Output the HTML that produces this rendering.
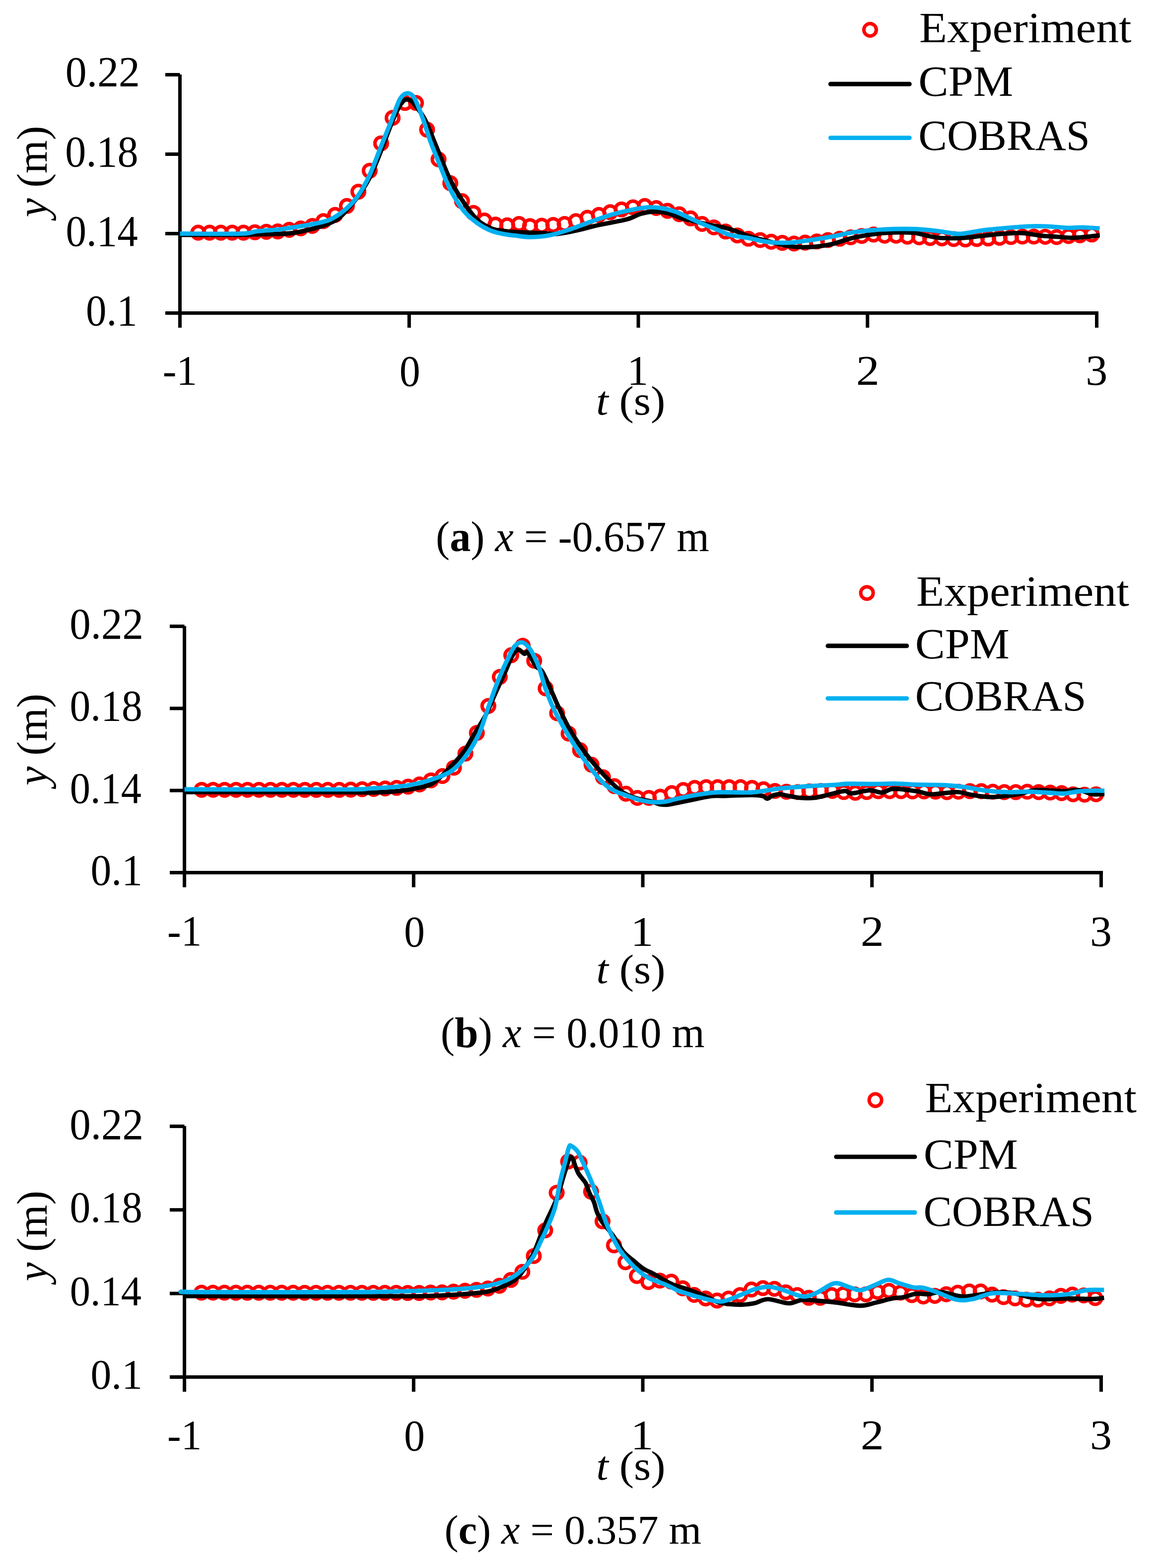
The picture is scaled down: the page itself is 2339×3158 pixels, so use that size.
<!DOCTYPE html><html><head><meta charset="utf-8"><title>Figure</title><style>html,body{margin:0;padding:0;background:#fff;}svg{display:block;}text{font-family:"Liberation Serif","Times New Roman",serif;fill:#000;}</style></head><body>
<svg width="2339" height="3158" viewBox="0 0 2339 3158">
<rect width="2339" height="3158" fill="#fff"/>
<g fill="#000">
<rect x="359.0" y="150.0" width="7" height="484.0"/>
<rect x="333.0" y="627.0" width="1880.0" height="7"/>
<rect x="333.0" y="147.0" width="29.5" height="7"/>
<rect x="333.0" y="307.0" width="29.5" height="7"/>
<rect x="333.0" y="467.0" width="29.5" height="7"/>
<rect x="333.0" y="627.0" width="29.5" height="7"/>
<rect x="359.0" y="630.5" width="7" height="29.5"/>
<rect x="820.8" y="630.5" width="7" height="29.5"/>
<rect x="1282.5" y="630.5" width="7" height="29.5"/>
<rect x="1744.2" y="630.5" width="7" height="29.5"/>
<rect x="2206.0" y="630.5" width="7" height="29.5"/>
</g>
<g fill="none" stroke="#FF0000" stroke-width="7">
<circle cx="399.3" cy="468.6" r="12.55"/>
<circle cx="422.2" cy="468.6" r="12.55"/>
<circle cx="445.0" cy="468.6" r="12.55"/>
<circle cx="467.8" cy="468.6" r="12.55"/>
<circle cx="490.6" cy="468.6" r="12.55"/>
<circle cx="513.4" cy="467.8" r="12.55"/>
<circle cx="536.6" cy="466.9" r="12.55"/>
<circle cx="559.6" cy="466.1" r="12.55"/>
<circle cx="582.7" cy="462.9" r="12.55"/>
<circle cx="605.8" cy="460.0" r="12.55"/>
<circle cx="629.2" cy="455.0" r="12.55"/>
<circle cx="651.5" cy="445.4" r="12.55"/>
<circle cx="675.2" cy="432.9" r="12.55"/>
<circle cx="698.9" cy="414.8" r="12.55"/>
<circle cx="722.0" cy="386.1" r="12.55"/>
<circle cx="744.8" cy="343.8" r="12.55"/>
<circle cx="767.9" cy="288.7" r="12.55"/>
<circle cx="791.0" cy="237.4" r="12.55"/>
<circle cx="815.8" cy="207.3" r="12.55"/>
<circle cx="838.1" cy="207.3" r="12.55"/>
<circle cx="860.4" cy="261.1" r="12.55"/>
<circle cx="883.5" cy="321.0" r="12.55"/>
<circle cx="907.2" cy="368.9" r="12.55"/>
<circle cx="930.8" cy="405.1" r="12.55"/>
<circle cx="953.7" cy="428.7" r="12.55"/>
<circle cx="975.9" cy="444.0" r="12.55"/>
<circle cx="998.2" cy="452.4" r="12.55"/>
<circle cx="1021.9" cy="453.8" r="12.55"/>
<circle cx="1045.6" cy="451.0" r="12.55"/>
<circle cx="1067.8" cy="455.2" r="12.55"/>
<circle cx="1091.5" cy="454.6" r="12.55"/>
<circle cx="1114.6" cy="453.0" r="12.55"/>
<circle cx="1137.5" cy="451.0" r="12.55"/>
<circle cx="1160.3" cy="445.4" r="12.55"/>
<circle cx="1183.4" cy="438.5" r="12.55"/>
<circle cx="1206.5" cy="432.9" r="12.55"/>
<circle cx="1229.4" cy="427.3" r="12.55"/>
<circle cx="1252.2" cy="421.8" r="12.55"/>
<circle cx="1275.3" cy="417.6" r="12.55"/>
<circle cx="1299.0" cy="414.8" r="12.55"/>
<circle cx="1322.1" cy="419.0" r="12.55"/>
<circle cx="1344.9" cy="424.6" r="12.55"/>
<circle cx="1368.6" cy="431.5" r="12.55"/>
<circle cx="1391.4" cy="439.9" r="12.55"/>
<circle cx="1414.5" cy="451.0" r="12.55"/>
<circle cx="1438.2" cy="458.0" r="12.55"/>
<circle cx="1461.9" cy="466.3" r="12.55"/>
<circle cx="1485.6" cy="474.2" r="12.55"/>
<circle cx="1507.8" cy="480.8" r="12.55"/>
<circle cx="1531.5" cy="483.5" r="12.55"/>
<circle cx="1553.8" cy="486.9" r="12.55"/>
<circle cx="1576.1" cy="489.1" r="12.55"/>
<circle cx="1599.7" cy="490.5" r="12.55"/>
<circle cx="1622.0" cy="488.6" r="12.55"/>
<circle cx="1645.7" cy="486.3" r="12.55"/>
<circle cx="1668.0" cy="483.5" r="12.55"/>
<circle cx="1691.6" cy="480.8" r="12.55"/>
<circle cx="1713.9" cy="478.0" r="12.55"/>
<circle cx="1736.2" cy="475.2" r="12.55"/>
<circle cx="1759.9" cy="472.4" r="12.55"/>
<circle cx="1782.1" cy="474.6" r="12.55"/>
<circle cx="1805.3" cy="474.6" r="12.55"/>
<circle cx="1828.1" cy="476.6" r="12.55"/>
<circle cx="1851.8" cy="478.0" r="12.55"/>
<circle cx="1874.0" cy="479.4" r="12.55"/>
<circle cx="1897.7" cy="480.2" r="12.55"/>
<circle cx="1921.4" cy="481.5" r="12.55"/>
<circle cx="1945.0" cy="482.3" r="12.55"/>
<circle cx="1967.9" cy="481.5" r="12.55"/>
<circle cx="1990.9" cy="480.3" r="12.55"/>
<circle cx="2013.9" cy="478.9" r="12.55"/>
<circle cx="2036.8" cy="477.5" r="12.55"/>
<circle cx="2059.8" cy="476.5" r="12.55"/>
<circle cx="2082.8" cy="476.5" r="12.55"/>
<circle cx="2105.8" cy="476.9" r="12.55"/>
<circle cx="2128.7" cy="477.5" r="12.55"/>
<circle cx="2152.7" cy="475.5" r="12.55"/>
<circle cx="2175.7" cy="473.9" r="12.55"/>
<circle cx="2199.6" cy="472.3" r="12.55"/>
</g>
<path d="M362.5,473.0 C383.1,473.0 460.1,473.2 485.9,473.0 C511.7,472.8 504.3,472.3 517.4,472.0 C530.5,471.7 550.8,471.7 564.6,471.0 C578.4,470.3 583.4,471.3 600.0,467.7 C616.6,464.1 647.8,456.8 664.0,449.6 C680.2,442.4 684.0,439.8 697.5,424.5 C711.0,409.2 729.0,388.3 744.8,357.7 C760.5,327.1 780.9,266.3 792.0,240.8 C803.1,215.3 806.0,211.1 811.6,204.6 C817.2,198.1 821.4,200.4 825.6,201.8 C829.8,203.2 831.6,206.4 836.7,212.9 C841.8,219.4 849.2,227.3 856.2,240.8 C863.2,254.3 870.1,273.8 878.5,293.7 C886.9,313.6 897.0,341.5 906.3,360.5 C915.6,379.5 924.9,394.1 934.2,407.8 C943.5,421.6 952.7,434.3 962.0,443.0 C971.3,451.7 980.6,456.2 989.9,460.0 C999.2,463.8 1009.4,464.2 1017.7,465.5 C1026.0,466.8 1031.7,467.0 1040.0,467.5 C1048.3,468.0 1058.6,468.3 1067.8,468.6 C1077.0,468.9 1085.7,469.1 1095.0,469.5 C1104.3,469.9 1111.8,472.0 1123.5,471.0 C1135.2,470.0 1151.4,466.5 1165.3,463.5 C1179.2,460.5 1190.8,456.6 1207.1,453.0 C1223.3,449.4 1248.9,445.5 1262.8,441.8 C1276.7,438.1 1281.3,433.3 1290.6,430.7 C1299.9,428.1 1309.2,426.2 1318.5,426.0 C1327.8,425.8 1337.0,427.3 1346.3,429.6 C1355.6,431.9 1364.9,437.1 1374.2,439.9 C1383.5,442.7 1392.7,444.1 1402.0,446.3 C1411.3,448.5 1420.6,451.1 1429.9,453.0 C1439.2,454.9 1449.4,456.1 1457.7,458.0 C1466.0,459.9 1471.7,461.7 1480.0,464.6 C1488.3,467.5 1496.2,471.6 1507.8,475.2 C1519.4,478.8 1535.7,482.8 1549.6,486.3 C1563.5,489.8 1577.5,494.2 1591.4,496.1 C1605.3,498.0 1619.3,498.2 1633.2,497.5 C1647.1,496.8 1661.0,494.9 1674.9,491.9 C1688.8,488.9 1702.8,482.8 1716.7,479.4 C1730.6,476.0 1744.6,473.7 1758.5,471.8 C1772.4,469.9 1786.3,468.6 1800.2,468.2 C1814.1,467.8 1830.4,467.9 1842.0,469.1 C1853.6,470.3 1860.6,473.5 1869.9,475.2 C1879.2,476.9 1886.0,478.7 1897.7,479.4 C1909.4,480.1 1926.3,479.9 1940.0,479.2 C1953.7,478.4 1966.6,476.3 1979.9,474.9 C1993.2,473.5 2006.6,471.8 2019.9,470.9 C2033.2,470.0 2046.5,468.8 2059.8,469.5 C2073.1,470.2 2088.2,473.7 2099.8,474.9 C2111.5,476.1 2119.7,476.2 2129.7,476.9 C2139.7,477.6 2149.7,478.9 2159.7,478.9 C2169.7,478.9 2180.4,477.7 2189.7,476.9 C2199.0,476.1 2211.3,474.4 2215.6,473.9" fill="none" stroke="#000" stroke-width="8.9" stroke-linejoin="round"/>
<path d="M362.5,470.5 C383.1,470.5 460.1,471.3 485.9,470.5 C511.7,469.7 504.3,467.2 517.4,465.8 C530.5,464.4 551.5,463.2 564.6,461.8 C577.7,460.4 586.8,458.5 596.0,457.1 C605.2,455.7 608.7,455.6 620.0,453.2 C631.3,450.8 651.1,448.1 664.0,442.6 C676.9,437.1 687.8,428.8 697.5,420.4 C707.2,412.0 714.6,403.9 722.5,392.5 C730.4,381.1 737.4,368.1 744.8,352.1 C752.2,336.1 759.6,315.1 767.0,296.5 C774.4,277.9 782.9,257.1 789.4,240.8 C795.9,224.6 800.9,207.8 806.0,199.0 C811.1,190.2 815.4,188.3 820.0,187.8 C824.6,187.3 828.8,188.3 833.9,196.2 C839.0,204.1 845.0,220.3 850.6,235.2 C856.2,250.0 861.7,270.0 867.3,285.3 C872.9,300.6 877.5,311.2 884.0,327.0 C890.5,342.8 897.9,363.8 906.3,380.0 C914.7,396.2 924.9,412.9 934.2,424.5 C943.5,436.1 952.7,442.9 962.0,449.6 C971.3,456.3 980.6,461.2 989.9,464.9 C999.2,468.6 1009.4,470.3 1017.7,471.9 C1026.0,473.5 1031.7,473.8 1040.0,474.7 C1048.3,475.6 1056.2,477.7 1067.8,477.5 C1079.4,477.3 1095.7,476.1 1109.6,473.3 C1123.5,470.5 1137.5,465.5 1151.4,460.8 C1165.3,456.1 1179.3,450.3 1193.2,445.4 C1207.1,440.5 1221.1,435.4 1235.0,431.5 C1248.9,427.6 1265.1,424.1 1276.7,421.8 C1288.3,419.5 1295.2,418.1 1304.5,417.6 C1313.8,417.1 1323.1,417.6 1332.4,419.0 C1341.7,420.4 1350.9,422.8 1360.2,426.0 C1369.5,429.2 1378.8,434.3 1388.1,438.5 C1397.4,442.7 1406.6,447.1 1415.9,451.0 C1425.2,454.9 1434.5,458.4 1443.8,462.1 C1453.1,465.8 1460.9,470.4 1471.6,473.3 C1482.3,476.2 1494.8,477.0 1507.8,479.4 C1520.8,481.8 1535.7,486.2 1549.6,487.7 C1563.5,489.2 1577.5,489.3 1591.4,488.6 C1605.3,487.9 1619.3,485.5 1633.2,483.5 C1647.1,481.5 1661.0,479.2 1674.9,476.6 C1688.8,474.1 1702.8,470.4 1716.7,468.2 C1730.6,466.0 1744.6,464.6 1758.5,463.5 C1772.4,462.4 1786.3,461.7 1800.2,461.3 C1814.1,460.9 1828.1,460.8 1842.0,461.3 C1855.9,461.9 1872.5,463.4 1883.8,464.6 C1895.1,465.8 1901.3,467.4 1910.0,468.5 C1918.7,469.6 1924.3,471.7 1936.0,470.9 C1947.7,470.1 1965.9,465.7 1979.9,463.9 C1993.9,462.1 2004.9,461.2 2019.9,459.9 C2034.9,458.6 2054.8,456.6 2069.8,455.9 C2084.8,455.2 2096.4,455.4 2109.7,455.9 C2123.0,456.4 2138.0,458.6 2149.7,458.9 C2161.4,459.2 2168.7,457.7 2179.7,457.9 C2190.7,458.1 2209.6,459.6 2215.6,459.9" fill="none" stroke="#00B0F0" stroke-width="8.9" stroke-linejoin="round" stroke-linecap="butt"/>
<circle cx="1752.9" cy="60.0" r="12.55" fill="none" stroke="#FF0000" stroke-width="7"/>
<line x1="1673.2" y1="169.3" x2="1832.3" y2="169.3" stroke="#000" stroke-width="8.9" stroke-linecap="round"/>
<line x1="1673.2" y1="277.6" x2="1832.3" y2="277.6" stroke="#00B0F0" stroke-width="8.9" stroke-linecap="round"/>
<text id="A_yl0" x="281.9" y="174.2" font-size="85.7" text-anchor="end" textLength="150.1" lengthAdjust="spacingAndGlyphs">0.22</text>
<text id="A_yl1" x="278.6" y="335.4" font-size="89.3" text-anchor="end" textLength="147.3" lengthAdjust="spacingAndGlyphs">0.18</text>
<text id="A_yl2" x="277.9" y="494.8" font-size="89.9" text-anchor="end" textLength="145.4" lengthAdjust="spacingAndGlyphs">0.14</text>
<text id="A_yl3" x="276.9" y="654.9" font-size="89.3" text-anchor="end" textLength="103.8" lengthAdjust="spacingAndGlyphs">0.1</text>
<text id="A_xl0" x="362.5" y="775.2" font-size="85.2" text-anchor="middle" textLength="69.4" lengthAdjust="spacingAndGlyphs">-1</text>
<text id="A_xl1" x="825.8" y="776.5" font-size="88.6" text-anchor="middle" textLength="41.9" lengthAdjust="spacingAndGlyphs">0</text>
<text id="A_xl2" x="1285.0" y="774.9" font-size="85.0" text-anchor="middle" textLength="42.8" lengthAdjust="spacingAndGlyphs">1</text>
<text id="A_xl3" x="1748.2" y="775.4" font-size="85.4" text-anchor="middle" textLength="47.1" lengthAdjust="spacingAndGlyphs">2</text>
<text id="A_xl4" x="2209.3" y="775.2" font-size="86.9" text-anchor="middle" textLength="44.0" lengthAdjust="spacingAndGlyphs">3</text>
<text id="A_t" x="1270.6" y="835.4" font-size="83.3" text-anchor="middle" textLength="139.3" lengthAdjust="spacingAndGlyphs"><tspan font-style="italic">t</tspan> (s)</text>
<text id="A_cap" x="1153.5" y="1109.5" font-size="85.7" text-anchor="middle" textLength="550.9" lengthAdjust="spacingAndGlyphs">(<tspan font-weight="bold">a</tspan>) <tspan font-style="italic">x</tspan> = -0.657 m</text>
<text id="A_ylab" transform="translate(94.1,345.6) rotate(-90)" x="0" y="0" font-size="86.0" text-anchor="middle" textLength="184.0" lengthAdjust="spacingAndGlyphs"><tspan font-style="italic">y</tspan> (m)</text>
<text id="A_leg0" x="1852.0" y="84.9" font-size="86.6" text-anchor="start" textLength="427.4" lengthAdjust="spacingAndGlyphs">Experiment</text>
<text id="A_leg1" x="1850.2" y="192.8" font-size="86.6" text-anchor="start" textLength="191.1" lengthAdjust="spacingAndGlyphs">CPM</text>
<text id="A_leg2" x="1850.3" y="301.8" font-size="86.6" text-anchor="start" textLength="345.5" lengthAdjust="spacingAndGlyphs">COBRAS</text>
<g fill="#000">
<rect x="368.1" y="1260.9" width="7" height="500.1"/>
<rect x="342.0" y="1754.0" width="1880.0" height="7"/>
<rect x="342.0" y="1257.9" width="29.6" height="7"/>
<rect x="342.0" y="1423.3" width="29.6" height="7"/>
<rect x="342.0" y="1588.6" width="29.6" height="7"/>
<rect x="342.0" y="1754.0" width="29.6" height="7"/>
<rect x="368.1" y="1757.5" width="7" height="29.5"/>
<rect x="829.8" y="1757.5" width="7" height="29.5"/>
<rect x="1291.5" y="1757.5" width="7" height="29.5"/>
<rect x="1753.2" y="1757.5" width="7" height="29.5"/>
<rect x="2214.9" y="1757.5" width="7" height="29.5"/>
</g>
<g fill="none" stroke="#FF0000" stroke-width="7">
<circle cx="406.3" cy="1590.7" r="12.55"/>
<circle cx="429.4" cy="1590.7" r="12.55"/>
<circle cx="452.5" cy="1590.7" r="12.55"/>
<circle cx="475.6" cy="1590.7" r="12.55"/>
<circle cx="498.7" cy="1590.7" r="12.55"/>
<circle cx="521.8" cy="1590.7" r="12.55"/>
<circle cx="544.9" cy="1590.7" r="12.55"/>
<circle cx="568.0" cy="1590.7" r="12.55"/>
<circle cx="591.1" cy="1590.7" r="12.55"/>
<circle cx="614.2" cy="1590.8" r="12.55"/>
<circle cx="637.3" cy="1590.8" r="12.55"/>
<circle cx="660.4" cy="1590.8" r="12.55"/>
<circle cx="683.5" cy="1590.8" r="12.55"/>
<circle cx="706.6" cy="1590.4" r="12.55"/>
<circle cx="729.7" cy="1589.5" r="12.55"/>
<circle cx="752.8" cy="1589.0" r="12.55"/>
<circle cx="775.9" cy="1588.0" r="12.55"/>
<circle cx="799.0" cy="1586.8" r="12.55"/>
<circle cx="822.1" cy="1584.4" r="12.55"/>
<circle cx="845.2" cy="1579.9" r="12.55"/>
<circle cx="868.3" cy="1571.7" r="12.55"/>
<circle cx="891.4" cy="1563.0" r="12.55"/>
<circle cx="914.5" cy="1546.2" r="12.55"/>
<circle cx="937.6" cy="1517.8" r="12.55"/>
<circle cx="960.7" cy="1476.1" r="12.55"/>
<circle cx="983.8" cy="1421.8" r="12.55"/>
<circle cx="1006.9" cy="1363.3" r="12.55"/>
<circle cx="1030.0" cy="1319.6" r="12.55"/>
<circle cx="1053.1" cy="1300.6" r="12.55"/>
<circle cx="1076.2" cy="1330.7" r="12.55"/>
<circle cx="1099.3" cy="1386.4" r="12.55"/>
<circle cx="1122.4" cy="1436.5" r="12.55"/>
<circle cx="1145.5" cy="1477.5" r="12.55"/>
<circle cx="1168.6" cy="1510.9" r="12.55"/>
<circle cx="1191.7" cy="1540.1" r="12.55"/>
<circle cx="1214.8" cy="1565.2" r="12.55"/>
<circle cx="1237.9" cy="1583.3" r="12.55"/>
<circle cx="1261.0" cy="1598.6" r="12.55"/>
<circle cx="1284.1" cy="1607.0" r="12.55"/>
<circle cx="1307.2" cy="1607.0" r="12.55"/>
<circle cx="1330.3" cy="1604.5" r="12.55"/>
<circle cx="1353.4" cy="1597.4" r="12.55"/>
<circle cx="1376.5" cy="1591.0" r="12.55"/>
<circle cx="1399.6" cy="1586.8" r="12.55"/>
<circle cx="1422.7" cy="1585.4" r="12.55"/>
<circle cx="1445.8" cy="1585.4" r="12.55"/>
<circle cx="1468.9" cy="1585.4" r="12.55"/>
<circle cx="1492.0" cy="1585.4" r="12.55"/>
<circle cx="1515.1" cy="1586.8" r="12.55"/>
<circle cx="1538.2" cy="1589.6" r="12.55"/>
<circle cx="1561.3" cy="1593.0" r="12.55"/>
<circle cx="1584.4" cy="1594.6" r="12.55"/>
<circle cx="1607.5" cy="1595.2" r="12.55"/>
<circle cx="1630.6" cy="1593.8" r="12.55"/>
<circle cx="1653.7" cy="1593.0" r="12.55"/>
<circle cx="1676.8" cy="1593.0" r="12.55"/>
<circle cx="1699.9" cy="1595.2" r="12.55"/>
<circle cx="1723.0" cy="1596.6" r="12.55"/>
<circle cx="1746.1" cy="1595.2" r="12.55"/>
<circle cx="1769.2" cy="1593.5" r="12.55"/>
<circle cx="1792.3" cy="1593.4" r="12.55"/>
<circle cx="1815.4" cy="1593.4" r="12.55"/>
<circle cx="1838.5" cy="1594.0" r="12.55"/>
<circle cx="1861.6" cy="1594.0" r="12.55"/>
<circle cx="1884.7" cy="1594.5" r="12.55"/>
<circle cx="1907.8" cy="1595.4" r="12.55"/>
<circle cx="1930.9" cy="1594.5" r="12.55"/>
<circle cx="1954.0" cy="1593.4" r="12.55"/>
<circle cx="1977.1" cy="1593.4" r="12.55"/>
<circle cx="2000.2" cy="1594.5" r="12.55"/>
<circle cx="2023.3" cy="1595.4" r="12.55"/>
<circle cx="2046.4" cy="1595.4" r="12.55"/>
<circle cx="2069.5" cy="1594.5" r="12.55"/>
<circle cx="2092.6" cy="1595.4" r="12.55"/>
<circle cx="2115.7" cy="1596.2" r="12.55"/>
<circle cx="2138.8" cy="1597.4" r="12.55"/>
<circle cx="2161.9" cy="1599.7" r="12.55"/>
<circle cx="2185.0" cy="1600.5" r="12.55"/>
<circle cx="2208.1" cy="1599.7" r="12.55"/>
</g>
<path d="M371.6,1595.3 C424.8,1595.3 628.5,1595.4 690.8,1595.6 C753.1,1595.8 727.1,1596.5 745.3,1596.2 C763.4,1595.9 784.6,1594.9 799.7,1593.5 C814.8,1592.1 824.0,1590.7 836.1,1588.0 C848.2,1585.3 860.5,1584.4 872.4,1577.1 C884.3,1569.8 897.2,1555.1 907.8,1544.3 C918.3,1533.5 927.9,1523.0 935.7,1512.3 C943.5,1501.6 947.3,1492.1 954.5,1480.0 C961.7,1467.9 971.4,1453.8 978.7,1439.8 C986.0,1425.8 991.3,1411.2 998.1,1396.2 C1004.9,1381.2 1014.1,1361.6 1019.4,1349.7 C1024.7,1337.8 1026.1,1331.9 1030.0,1325.0 C1033.9,1318.1 1038.3,1309.5 1042.7,1308.1 C1047.1,1306.7 1053.0,1316.0 1056.2,1316.8 C1059.4,1317.6 1059.6,1311.4 1062.0,1313.0 C1064.4,1314.6 1067.6,1321.5 1070.7,1326.5 C1073.8,1331.5 1076.8,1338.8 1080.4,1343.0 C1084.0,1347.2 1087.5,1345.1 1092.1,1352.0 C1096.7,1358.9 1102.1,1372.2 1107.8,1384.5 C1113.5,1396.8 1119.3,1411.5 1126.0,1425.6 C1132.7,1439.7 1140.9,1456.9 1147.8,1469.2 C1154.7,1481.5 1160.8,1490.0 1167.2,1499.5 C1173.7,1509.0 1179.8,1517.6 1186.5,1526.1 C1193.2,1534.6 1199.6,1542.0 1207.1,1550.3 C1214.6,1558.6 1223.2,1568.1 1231.3,1575.8 C1239.4,1583.5 1246.8,1590.9 1255.5,1596.3 C1264.2,1601.7 1274.5,1605.4 1283.8,1608.3 C1293.1,1611.2 1303.9,1612.0 1311.6,1613.9 C1319.3,1615.9 1324.0,1618.9 1330.0,1620.0 C1336.0,1621.1 1337.9,1621.6 1347.8,1620.3 C1357.7,1619.0 1375.7,1614.7 1389.6,1611.9 C1403.5,1609.1 1419.8,1605.0 1431.4,1603.5 C1443.0,1602.0 1445.3,1603.4 1459.2,1603.0 C1473.1,1602.6 1501.9,1601.2 1514.9,1601.3 C1527.9,1601.4 1532.1,1602.3 1537.2,1603.5 C1542.3,1604.7 1542.3,1608.8 1545.6,1608.6 C1548.8,1608.4 1552.5,1603.7 1556.7,1602.2 C1560.9,1600.7 1566.0,1599.4 1570.6,1599.4 C1575.2,1599.4 1577.5,1601.0 1584.5,1602.2 C1591.5,1603.5 1603.1,1606.1 1612.4,1606.9 C1621.7,1607.7 1630.9,1607.9 1640.2,1606.9 C1649.5,1605.9 1657.9,1603.1 1668.1,1600.8 C1678.3,1598.5 1693.6,1593.5 1701.5,1593.0 C1709.4,1592.5 1707.1,1598.2 1715.4,1598.0 C1723.8,1597.8 1741.3,1592.1 1751.6,1591.8 C1761.9,1591.5 1769.1,1596.7 1777.1,1596.2 C1785.1,1595.7 1788.4,1589.3 1799.8,1588.8 C1811.2,1588.3 1833.0,1591.6 1845.3,1593.4 C1857.6,1595.2 1864.3,1599.0 1873.8,1599.7 C1883.3,1600.4 1892.7,1598.1 1902.2,1597.4 C1911.7,1596.7 1921.2,1594.8 1930.7,1595.4 C1940.2,1596.0 1948.2,1599.4 1959.1,1601.1 C1970.0,1602.8 1984.2,1605.1 1996.1,1605.3 C2008.0,1605.5 2019.9,1603.7 2030.3,1602.5 C2040.7,1601.3 2049.2,1600.1 2058.7,1598.2 C2068.2,1596.3 2073.0,1591.9 2087.2,1591.1 C2101.4,1590.3 2129.9,1593.4 2144.1,1593.4 C2158.3,1593.4 2163.0,1590.1 2172.5,1591.1 C2182.0,1592.1 2192.2,1598.1 2201.0,1599.5 C2209.8,1600.9 2221.1,1599.3 2225.1,1599.3" fill="none" stroke="#000" stroke-width="8.9" stroke-linejoin="round"/>
<path d="M371.6,1589.8 C424.8,1589.8 628.5,1590.2 690.8,1589.9 C753.1,1589.6 727.1,1588.9 745.3,1588.0 C763.4,1587.1 784.6,1585.9 799.7,1584.4 C814.8,1582.9 824.0,1581.6 836.1,1579.0 C848.2,1576.4 860.5,1573.2 872.4,1569.0 C884.3,1564.8 897.2,1561.1 907.8,1554.0 C918.3,1546.9 926.3,1538.5 935.7,1526.2 C945.1,1513.9 956.2,1496.8 964.2,1480.0 C972.2,1463.2 977.1,1443.3 983.6,1425.3 C990.1,1407.3 996.5,1388.2 1003.0,1372.0 C1009.5,1355.8 1016.6,1340.2 1022.3,1328.4 C1028.0,1316.6 1032.1,1307.1 1036.9,1301.3 C1041.8,1295.5 1046.9,1293.4 1051.4,1293.6 C1055.9,1293.8 1060.0,1297.8 1064.0,1302.3 C1068.0,1306.8 1071.7,1313.1 1075.6,1320.7 C1079.5,1328.3 1083.4,1337.2 1087.2,1347.8 C1091.0,1358.4 1093.6,1371.3 1098.2,1384.5 C1102.8,1397.7 1109.2,1414.2 1115.1,1426.9 C1120.9,1439.6 1127.0,1449.7 1133.3,1460.8 C1139.5,1471.9 1145.8,1482.5 1152.6,1493.4 C1159.4,1504.3 1167.3,1516.0 1174.4,1526.1 C1181.5,1536.2 1187.9,1545.3 1195.0,1554.0 C1202.1,1562.7 1209.7,1571.8 1216.8,1578.2 C1223.9,1584.7 1230.4,1588.9 1237.4,1592.7 C1244.4,1596.5 1251.3,1598.2 1259.0,1601.0 C1266.7,1603.8 1275.0,1607.3 1283.8,1609.7 C1292.6,1612.1 1302.2,1614.5 1311.6,1615.3 C1321.0,1616.1 1331.6,1615.5 1340.0,1614.5 C1348.4,1613.5 1351.2,1611.4 1361.8,1609.1 C1372.4,1606.8 1389.6,1603.0 1403.5,1600.8 C1417.4,1598.6 1426.7,1596.5 1445.3,1595.7 C1463.9,1594.9 1494.0,1597.0 1514.9,1595.7 C1535.8,1594.5 1552.0,1590.2 1570.6,1588.2 C1589.2,1586.2 1607.7,1584.8 1626.3,1583.5 C1644.9,1582.2 1668.1,1581.5 1682.0,1580.7 C1695.9,1579.9 1696.9,1578.8 1709.9,1578.5 C1722.9,1578.2 1744.5,1579.0 1760.0,1579.0 C1775.5,1579.0 1788.5,1578.1 1802.7,1578.3 C1816.9,1578.5 1828.7,1579.8 1845.3,1580.3 C1861.9,1580.8 1885.6,1580.3 1902.2,1581.2 C1918.8,1582.1 1930.7,1583.5 1944.9,1585.4 C1959.1,1587.3 1973.4,1590.8 1987.6,1592.5 C2001.8,1594.2 2016.1,1595.1 2030.3,1595.4 C2044.5,1595.7 2058.7,1594.3 2072.9,1594.5 C2087.1,1594.7 2103.7,1596.2 2115.6,1596.8 C2127.5,1597.4 2134.6,1598.7 2144.1,1598.2 C2153.6,1597.7 2163.0,1595.0 2172.5,1594.0 C2182.0,1593.0 2192.2,1592.8 2201.0,1592.5 C2209.8,1592.2 2221.1,1592.5 2225.1,1592.5" fill="none" stroke="#00B0F0" stroke-width="8.9" stroke-linejoin="round" stroke-linecap="butt"/>
<circle cx="1746.6" cy="1194.2" r="12.55" fill="none" stroke="#FF0000" stroke-width="7"/>
<line x1="1667.8" y1="1300.8" x2="1826.8" y2="1300.8" stroke="#000" stroke-width="8.9" stroke-linecap="round"/>
<line x1="1667.8" y1="1406.6" x2="1826.8" y2="1406.6" stroke="#00B0F0" stroke-width="8.9" stroke-linecap="round"/>
<text id="B_yl0" x="289.0" y="1286.1" font-size="88.3" text-anchor="end" textLength="148.8" lengthAdjust="spacingAndGlyphs">0.22</text>
<text id="B_yl1" x="286.8" y="1451.4" font-size="89.3" text-anchor="end" textLength="146.2" lengthAdjust="spacingAndGlyphs">0.18</text>
<text id="B_yl2" x="285.1" y="1616.6" font-size="88.7" text-anchor="end" textLength="144.4" lengthAdjust="spacingAndGlyphs">0.14</text>
<text id="B_yl3" x="287.1" y="1782.1" font-size="88.6" text-anchor="end" textLength="104.6" lengthAdjust="spacingAndGlyphs">0.1</text>
<text id="B_xl0" x="371.6" y="1904.3" font-size="85.8" text-anchor="middle" textLength="69.4" lengthAdjust="spacingAndGlyphs">-1</text>
<text id="B_xl1" x="834.9" y="1905.8" font-size="89.0" text-anchor="middle" textLength="41.9" lengthAdjust="spacingAndGlyphs">0</text>
<text id="B_xl2" x="1293.6" y="1904.6" font-size="84.5" text-anchor="middle" textLength="46.0" lengthAdjust="spacingAndGlyphs">1</text>
<text id="B_xl3" x="1757.3" y="1904.6" font-size="85.7" text-anchor="middle" textLength="47.1" lengthAdjust="spacingAndGlyphs">2</text>
<text id="B_xl4" x="2218.1" y="1904.6" font-size="85.8" text-anchor="middle" textLength="44.0" lengthAdjust="spacingAndGlyphs">3</text>
<text id="B_t" x="1270.9" y="1980.0" font-size="83.2" text-anchor="middle" textLength="139.2" lengthAdjust="spacingAndGlyphs"><tspan font-style="italic">t</tspan> (s)</text>
<text id="B_cap" x="1153.8" y="2108.5" font-size="87.2" text-anchor="middle" textLength="531.9" lengthAdjust="spacingAndGlyphs">(<tspan font-weight="bold">b</tspan>) <tspan font-style="italic">x</tspan> = 0.010 m</text>
<text id="B_ylab" transform="translate(94.1,1489.4) rotate(-90)" x="0" y="0" font-size="86.0" text-anchor="middle" textLength="185.0" lengthAdjust="spacingAndGlyphs"><tspan font-style="italic">y</tspan> (m)</text>
<text id="B_leg0" x="1846.0" y="1220.0" font-size="86.6" text-anchor="start" textLength="428.7" lengthAdjust="spacingAndGlyphs">Experiment</text>
<text id="B_leg1" x="1843.7" y="1325.6" font-size="86.6" text-anchor="start" textLength="190.1" lengthAdjust="spacingAndGlyphs">CPM</text>
<text id="B_leg2" x="1843.8" y="1430.8" font-size="86.6" text-anchor="start" textLength="344.6" lengthAdjust="spacingAndGlyphs">COBRAS</text>
<g fill="#000">
<rect x="368.1" y="2267.9" width="7" height="509.0"/>
<rect x="342.0" y="2769.9" width="1880.0" height="7"/>
<rect x="342.0" y="2264.9" width="29.6" height="7"/>
<rect x="342.0" y="2433.2" width="29.6" height="7"/>
<rect x="342.0" y="2601.6" width="29.6" height="7"/>
<rect x="342.0" y="2769.9" width="29.6" height="7"/>
<rect x="368.1" y="2773.4" width="7" height="29.6"/>
<rect x="829.8" y="2773.4" width="7" height="29.6"/>
<rect x="1291.5" y="2773.4" width="7" height="29.6"/>
<rect x="1753.2" y="2773.4" width="7" height="29.6"/>
<rect x="2214.9" y="2773.4" width="7" height="29.6"/>
</g>
<g fill="none" stroke="#FF0000" stroke-width="7">
<circle cx="405.9" cy="2603.5" r="12.55"/>
<circle cx="429.0" cy="2603.5" r="12.55"/>
<circle cx="452.1" cy="2603.5" r="12.55"/>
<circle cx="475.2" cy="2603.6" r="12.55"/>
<circle cx="498.2" cy="2603.6" r="12.55"/>
<circle cx="521.3" cy="2603.6" r="12.55"/>
<circle cx="544.4" cy="2603.6" r="12.55"/>
<circle cx="567.5" cy="2603.6" r="12.55"/>
<circle cx="590.6" cy="2603.6" r="12.55"/>
<circle cx="613.7" cy="2603.7" r="12.55"/>
<circle cx="636.7" cy="2603.7" r="12.55"/>
<circle cx="659.8" cy="2603.7" r="12.55"/>
<circle cx="682.9" cy="2603.7" r="12.55"/>
<circle cx="706.0" cy="2603.7" r="12.55"/>
<circle cx="729.1" cy="2603.7" r="12.55"/>
<circle cx="752.2" cy="2603.8" r="12.55"/>
<circle cx="775.3" cy="2603.8" r="12.55"/>
<circle cx="798.3" cy="2603.8" r="12.55"/>
<circle cx="821.4" cy="2604.1" r="12.55"/>
<circle cx="844.5" cy="2604.1" r="12.55"/>
<circle cx="867.6" cy="2603.2" r="12.55"/>
<circle cx="890.7" cy="2602.9" r="12.55"/>
<circle cx="913.8" cy="2601.4" r="12.55"/>
<circle cx="936.8" cy="2599.6" r="12.55"/>
<circle cx="959.9" cy="2597.8" r="12.55"/>
<circle cx="983.0" cy="2595.1" r="12.55"/>
<circle cx="1006.1" cy="2589.6" r="12.55"/>
<circle cx="1029.2" cy="2577.8" r="12.55"/>
<circle cx="1052.3" cy="2561.5" r="12.55"/>
<circle cx="1075.4" cy="2529.7" r="12.55"/>
<circle cx="1098.4" cy="2478.0" r="12.55"/>
<circle cx="1121.5" cy="2402.2" r="12.55"/>
<circle cx="1144.6" cy="2339.4" r="12.55"/>
<circle cx="1167.7" cy="2341.5" r="12.55"/>
<circle cx="1190.8" cy="2400.1" r="12.55"/>
<circle cx="1213.9" cy="2459.8" r="12.55"/>
<circle cx="1236.9" cy="2508.2" r="12.55"/>
<circle cx="1260.0" cy="2542.1" r="12.55"/>
<circle cx="1283.1" cy="2569.9" r="12.55"/>
<circle cx="1306.2" cy="2582.2" r="12.55"/>
<circle cx="1329.3" cy="2579.2" r="12.55"/>
<circle cx="1352.4" cy="2581.2" r="12.55"/>
<circle cx="1375.5" cy="2594.6" r="12.55"/>
<circle cx="1398.5" cy="2608.0" r="12.55"/>
<circle cx="1421.6" cy="2615.2" r="12.55"/>
<circle cx="1444.7" cy="2619.4" r="12.55"/>
<circle cx="1467.8" cy="2615.2" r="12.55"/>
<circle cx="1490.9" cy="2608.2" r="12.55"/>
<circle cx="1514.0" cy="2597.1" r="12.55"/>
<circle cx="1537.0" cy="2594.3" r="12.55"/>
<circle cx="1560.1" cy="2595.7" r="12.55"/>
<circle cx="1583.2" cy="2602.7" r="12.55"/>
<circle cx="1606.3" cy="2608.2" r="12.55"/>
<circle cx="1629.4" cy="2613.8" r="12.55"/>
<circle cx="1652.5" cy="2613.8" r="12.55"/>
<circle cx="1675.6" cy="2608.2" r="12.55"/>
<circle cx="1698.6" cy="2606.8" r="12.55"/>
<circle cx="1721.7" cy="2606.8" r="12.55"/>
<circle cx="1744.8" cy="2606.8" r="12.55"/>
<circle cx="1767.9" cy="2601.8" r="12.55"/>
<circle cx="1791.0" cy="2599.9" r="12.55"/>
<circle cx="1814.1" cy="2603.5" r="12.55"/>
<circle cx="1837.1" cy="2608.4" r="12.55"/>
<circle cx="1860.2" cy="2611.2" r="12.55"/>
<circle cx="1883.3" cy="2609.9" r="12.55"/>
<circle cx="1906.4" cy="2606.6" r="12.55"/>
<circle cx="1929.5" cy="2603.6" r="12.55"/>
<circle cx="1952.6" cy="2601.0" r="12.55"/>
<circle cx="1975.7" cy="2601.0" r="12.55"/>
<circle cx="1998.7" cy="2607.4" r="12.55"/>
<circle cx="2021.8" cy="2612.5" r="12.55"/>
<circle cx="2044.9" cy="2615.0" r="12.55"/>
<circle cx="2068.0" cy="2617.5" r="12.55"/>
<circle cx="2091.1" cy="2617.5" r="12.55"/>
<circle cx="2114.2" cy="2615.0" r="12.55"/>
<circle cx="2137.2" cy="2609.9" r="12.55"/>
<circle cx="2160.3" cy="2607.4" r="12.55"/>
<circle cx="2183.4" cy="2609.0" r="12.55"/>
<circle cx="2206.5" cy="2614.5" r="12.55"/>
</g>
<path d="M371.6,2610.2 C443.0,2610.3 716.5,2610.7 800.0,2610.6 C883.5,2610.5 851.4,2610.2 872.6,2609.6 C893.8,2609.0 908.9,2608.3 927.1,2606.9 C945.3,2605.5 966.5,2604.4 981.6,2601.4 C996.7,2598.4 1007.3,2593.8 1017.9,2588.7 C1028.5,2583.5 1036.0,2580.5 1045.1,2570.5 C1054.2,2560.5 1064.8,2543.0 1072.4,2528.8 C1080.0,2514.6 1085.7,2496.9 1090.5,2485.2 C1095.3,2473.5 1096.0,2470.8 1101.2,2458.8 C1106.4,2446.9 1115.5,2430.0 1121.7,2413.5 C1127.9,2397.0 1133.5,2373.9 1138.2,2360.0 C1142.9,2346.1 1146.2,2331.2 1150.0,2330.0 C1153.8,2328.8 1158.1,2347.4 1160.7,2353.0 C1163.3,2358.6 1163.2,2359.9 1165.5,2363.6 C1167.8,2367.3 1171.8,2372.0 1174.2,2375.2 C1176.6,2378.4 1177.7,2378.3 1180.0,2383.0 C1182.3,2387.7 1185.0,2397.0 1187.8,2403.3 C1190.5,2409.6 1194.1,2414.6 1196.5,2420.7 C1198.9,2426.8 1199.7,2433.5 1202.3,2440.0 C1204.9,2446.5 1206.3,2451.2 1212.0,2459.5 C1217.7,2467.8 1229.0,2479.8 1236.2,2490.0 C1243.5,2500.2 1248.8,2512.3 1255.5,2520.5 C1262.2,2528.7 1269.2,2533.2 1276.1,2539.0 C1283.0,2544.8 1289.8,2551.0 1296.7,2555.5 C1303.6,2560.0 1310.5,2562.0 1317.3,2565.8 C1324.1,2569.6 1330.9,2574.3 1337.8,2578.1 C1344.7,2581.9 1351.4,2585.6 1358.4,2588.4 C1365.4,2591.2 1369.4,2591.2 1380.0,2595.0 C1390.6,2598.8 1410.2,2606.2 1421.8,2611.0 C1433.4,2615.8 1438.0,2620.7 1449.6,2623.5 C1461.2,2626.3 1479.8,2627.5 1491.4,2627.7 C1503.0,2627.9 1509.9,2626.8 1519.2,2624.9 C1528.5,2623.1 1535.5,2616.6 1547.1,2616.6 C1558.7,2616.6 1577.3,2624.7 1588.9,2624.9 C1600.5,2625.1 1605.1,2618.7 1616.7,2618.0 C1628.3,2617.3 1646.9,2619.9 1658.5,2620.8 C1670.1,2621.7 1673.8,2622.0 1686.3,2623.5 C1698.8,2625.0 1720.7,2629.7 1733.7,2629.7 C1746.7,2629.7 1753.6,2625.9 1764.3,2623.5 C1775.0,2621.1 1788.4,2617.0 1797.7,2615.2 C1807.0,2613.4 1812.0,2614.1 1820.0,2612.5 C1828.0,2610.9 1836.9,2606.6 1845.4,2605.6 C1853.9,2604.6 1862.4,2607.1 1870.9,2606.6 C1879.4,2606.1 1884.5,2601.5 1896.3,2602.3 C1908.1,2603.1 1925.0,2611.0 1942.0,2611.2 C1959.0,2611.4 1982.3,2604.9 1998.0,2603.6 C2013.7,2602.3 2023.4,2602.1 2036.1,2603.6 C2048.8,2605.1 2063.7,2610.3 2074.3,2612.5 C2084.9,2614.7 2087.0,2616.4 2099.7,2616.8 C2112.4,2617.2 2133.6,2615.1 2150.5,2615.0 C2167.4,2614.9 2189.1,2616.5 2201.4,2616.3 C2213.7,2616.1 2220.5,2614.1 2224.3,2613.7" fill="none" stroke="#000" stroke-width="8.9" stroke-linejoin="round"/>
<path d="M371.6,2600.8 C375.5,2601.1 340.3,2602.1 395.0,2602.3 C449.7,2602.6 632.5,2602.5 700.0,2602.3 C767.5,2602.1 771.2,2601.6 800.0,2601.0 C828.8,2600.4 851.4,2599.5 872.6,2598.7 C893.8,2597.9 908.9,2597.5 927.1,2596.0 C945.3,2594.5 966.5,2592.3 981.6,2589.6 C996.7,2586.9 1007.3,2584.0 1017.9,2579.6 C1028.5,2575.2 1036.0,2570.9 1045.1,2563.3 C1054.2,2555.7 1064.8,2545.1 1072.4,2534.2 C1080.0,2523.3 1085.7,2507.7 1090.5,2497.9 C1095.3,2488.1 1096.7,2485.8 1101.2,2475.2 C1105.7,2464.6 1113.1,2449.5 1117.6,2434.1 C1122.0,2418.7 1124.5,2398.0 1127.9,2382.6 C1131.3,2367.2 1135.1,2353.6 1138.2,2341.5 C1141.3,2329.4 1144.2,2315.5 1146.4,2310.0 C1148.6,2304.5 1148.7,2307.0 1151.6,2308.5 C1154.5,2310.0 1160.0,2314.1 1163.6,2319.0 C1167.2,2323.9 1168.6,2328.5 1173.0,2338.0 C1177.4,2347.5 1184.3,2362.2 1190.0,2376.0 C1195.7,2389.8 1201.8,2405.7 1207.2,2420.7 C1212.6,2435.7 1216.2,2450.7 1222.5,2466.0 C1228.8,2481.3 1238.0,2500.1 1245.2,2512.3 C1252.4,2524.5 1258.9,2531.1 1265.8,2539.0 C1272.7,2546.9 1279.5,2553.8 1286.4,2559.6 C1293.3,2565.4 1300.2,2570.2 1307.0,2574.0 C1313.8,2577.8 1320.7,2579.4 1327.5,2582.2 C1334.3,2584.9 1341.2,2587.4 1348.1,2590.5 C1355.0,2593.6 1363.4,2598.6 1368.7,2600.8 C1374.0,2603.1 1373.5,2602.1 1380.0,2604.0 C1386.5,2605.9 1395.7,2609.5 1407.8,2612.4 C1419.9,2615.3 1438.5,2622.0 1452.4,2621.3 C1466.3,2620.6 1480.3,2612.2 1491.4,2608.2 C1502.5,2604.2 1509.9,2599.9 1519.2,2597.1 C1528.5,2594.3 1537.8,2591.5 1547.1,2591.5 C1556.4,2591.5 1563.3,2593.8 1574.9,2597.1 C1586.5,2600.3 1605.1,2609.8 1616.7,2611.0 C1628.3,2612.2 1633.9,2608.4 1644.6,2604.0 C1655.3,2599.6 1670.0,2586.7 1680.7,2584.6 C1691.4,2582.5 1699.8,2589.2 1708.6,2591.5 C1717.4,2593.8 1724.4,2599.2 1733.7,2598.5 C1743.0,2597.8 1755.0,2590.8 1764.3,2587.3 C1773.6,2583.8 1781.5,2578.1 1789.4,2577.6 C1797.3,2577.1 1803.2,2582.0 1811.6,2584.6 C1820.0,2587.2 1832.2,2591.4 1840.0,2592.9 C1847.8,2594.4 1850.8,2592.1 1858.1,2593.4 C1865.4,2594.8 1872.1,2597.0 1883.6,2601.0 C1895.0,2605.0 1914.1,2614.9 1926.8,2617.5 C1939.5,2620.1 1947.9,2618.4 1959.8,2616.3 C1971.7,2614.2 1983.2,2606.6 1998.0,2604.8 C2012.8,2603.0 2031.9,2605.0 2048.8,2605.6 C2065.8,2606.2 2082.8,2608.4 2099.7,2608.6 C2116.6,2608.8 2135.7,2608.3 2150.5,2606.6 C2165.3,2604.9 2176.4,2599.9 2188.7,2598.5 C2201.0,2597.1 2218.4,2598.1 2224.3,2598.0" fill="none" stroke="#00B0F0" stroke-width="8.9" stroke-linejoin="round" stroke-linecap="butt"/>
<circle cx="1763.6" cy="2215.6" r="12.55" fill="none" stroke="#FF0000" stroke-width="7"/>
<line x1="1684.7" y1="2329.9" x2="1843.0" y2="2329.9" stroke="#000" stroke-width="8.9" stroke-linecap="round"/>
<line x1="1684.7" y1="2442.0" x2="1843.0" y2="2442.0" stroke="#00B0F0" stroke-width="8.9" stroke-linecap="round"/>
<text id="C_yl0" x="289.0" y="2293.7" font-size="88.7" text-anchor="end" textLength="148.8" lengthAdjust="spacingAndGlyphs">0.22</text>
<text id="C_yl1" x="286.8" y="2461.3" font-size="88.6" text-anchor="end" textLength="146.2" lengthAdjust="spacingAndGlyphs">0.18</text>
<text id="C_yl2" x="285.1" y="2628.9" font-size="85.1" text-anchor="end" textLength="144.4" lengthAdjust="spacingAndGlyphs">0.14</text>
<text id="C_yl3" x="287.1" y="2796.9" font-size="85.1" text-anchor="end" textLength="104.6" lengthAdjust="spacingAndGlyphs">0.1</text>
<text id="C_xl0" x="371.6" y="2919.2" font-size="84.8" text-anchor="middle" textLength="69.4" lengthAdjust="spacingAndGlyphs">-1</text>
<text id="C_xl1" x="834.9" y="2920.7" font-size="88.6" text-anchor="middle" textLength="41.9" lengthAdjust="spacingAndGlyphs">0</text>
<text id="C_xl2" x="1293.6" y="2919.4" font-size="85.5" text-anchor="middle" textLength="46.0" lengthAdjust="spacingAndGlyphs">1</text>
<text id="C_xl3" x="1757.3" y="2919.4" font-size="85.1" text-anchor="middle" textLength="47.1" lengthAdjust="spacingAndGlyphs">2</text>
<text id="C_xl4" x="2218.1" y="2919.4" font-size="85.2" text-anchor="middle" textLength="44.0" lengthAdjust="spacingAndGlyphs">3</text>
<text id="C_t" x="1270.9" y="2980.0" font-size="83.2" text-anchor="middle" textLength="139.2" lengthAdjust="spacingAndGlyphs"><tspan font-style="italic">t</tspan> (s)</text>
<text id="C_cap" x="1154.3" y="3108.6" font-size="83.2" text-anchor="middle" textLength="517.7" lengthAdjust="spacingAndGlyphs">(<tspan font-weight="bold">c</tspan>) <tspan font-style="italic">x</tspan> = 0.357 m</text>
<text id="C_ylab" transform="translate(94.1,2489.3) rotate(-90)" x="0" y="0" font-size="86.0" text-anchor="middle" textLength="182.4" lengthAdjust="spacingAndGlyphs"><tspan font-style="italic">y</tspan> (m)</text>
<text id="C_leg0" x="1863.4" y="2240.0" font-size="86.6" text-anchor="start" textLength="426.6" lengthAdjust="spacingAndGlyphs">Experiment</text>
<text id="C_leg1" x="1860.8" y="2353.6" font-size="86.6" text-anchor="start" textLength="190.1" lengthAdjust="spacingAndGlyphs">CPM</text>
<text id="C_leg2" x="1860.4" y="2468.6" font-size="86.6" text-anchor="start" textLength="343.4" lengthAdjust="spacingAndGlyphs">COBRAS</text>
</svg></body></html>
